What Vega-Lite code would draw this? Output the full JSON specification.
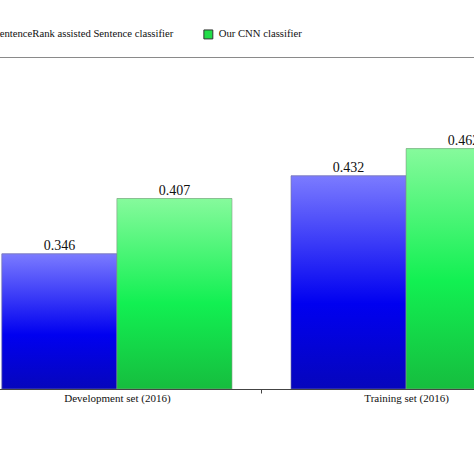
{
  "$schema": "https://vega.github.io/schema/vega-lite/v6.json",
  "autosize": {"type": "none"},
  "width": 635,
  "height": 332,
  "padding": {"left": -56, "top": 57, "right": -105, "bottom": 85},
  "background": "white",
  "config": {
    "view": {"stroke": "#8a8a8a", "strokeWidth": 1},
    "font": "Liberation Serif"
  },
  "data": {
    "values": [
      {"set": "Development set (2016)", "method": "SentenceRank assisted Sentence classifier", "value": 0.346},
      {"set": "Development set (2016)", "method": "Our CNN classifier", "value": 0.407},
      {"set": "Training set (2016)", "method": "SentenceRank assisted Sentence classifier", "value": 0.432},
      {"set": "Training set (2016)", "method": "Our CNN classifier", "value": 0.462}
    ]
  },
  "encoding": {
    "x": {
      "field": "set",
      "type": "nominal",
      "sort": null,
      "scale": {"paddingInner": 0.204, "paddingOuter": 0.2},
      "axis": {
        "title": null,
        "labelAngle": 0,
        "labelFont": "Liberation Serif",
        "labelFontSize": 11,
        "labelColor": "#111",
        "labelPadding": -1,
        "domainColor": "#444",
        "tickColor": "#444",
        "tickSize": 4,
        "tickOffset": 144.5,
        "labelOffset": -144.5,
        "grid": false
      }
    },
    "xOffset": {
      "field": "method",
      "type": "nominal",
      "scale": {"domain": ["SentenceRank assisted Sentence classifier", "Our CNN classifier"]}
    },
    "y": {
      "field": "value",
      "type": "quantitative",
      "scale": {"domain": [0.197, 0.563], "nice": false, "zero": false},
      "axis": null
    }
  },
  "layer": [
    {
      "mark": {"type": "bar", "clip": true},
      "encoding": {
        "y2": {"datum": 0.197},
        "color": {
          "field": "method",
          "type": "nominal",
          "scale": {
            "domain": ["SentenceRank assisted Sentence classifier", "Our CNN classifier"],
            "range": ["#2f2ff0", "#22dd48"]
          },
          "legend": {
            "title": null,
            "orient": "none",
            "direction": "horizontal",
            "legendX": 34,
            "legendY": -28,
            "padding": 0,
            "symbolType": "square",
            "symbolSize": 80,
            "symbolStrokeColor": "#333",
            "symbolStrokeWidth": 1,
            "symbolOpacity": 1,
            "labelFont": "Liberation Serif",
            "labelFontSize": 10.7,
            "labelColor": "#111",
            "labelLimit": 0,
            "labelOffset": 5,
            "columnPadding": 27
          }
        }
      }
    },
    {
      "transform": [{"filter": "datum.method == 'SentenceRank assisted Sentence classifier'"}],
      "mark": {
        "type": "bar",
        "clip": true,
        "stroke": "#7a7a9a",
        "strokeWidth": 0.6,
        "color": {
          "gradient": "linear",
          "x1": 0, "y1": 0, "x2": 0, "y2": 1,
          "stops": [
            {"offset": 0, "color": "#7b7bff"},
            {"offset": 0.6, "color": "#0000f0"},
            {"offset": 1, "color": "#0606bc"}
          ]
        }
      },
      "encoding": {"y2": {"datum": 0.197}}
    },
    {
      "transform": [{"filter": "datum.method == 'Our CNN classifier'"}],
      "mark": {
        "type": "bar",
        "clip": true,
        "stroke": "#8a9a8a",
        "strokeWidth": 0.6,
        "color": {
          "gradient": "linear",
          "x1": 0, "y1": 0, "x2": 0, "y2": 1,
          "stops": [
            {"offset": 0, "color": "#86fa9c"},
            {"offset": 0.55, "color": "#12f052"},
            {"offset": 1, "color": "#16bd3e"}
          ]
        }
      },
      "encoding": {"y2": {"datum": 0.197}}
    },
    {
      "mark": {
        "type": "text",
        "baseline": "alphabetic",
        "dy": -4,
        "font": "Liberation Serif",
        "fontSize": 14,
        "color": "#111"
      },
      "encoding": {
        "text": {"field": "value", "type": "quantitative", "format": ".3f"}
      }
    }
  ]
}
